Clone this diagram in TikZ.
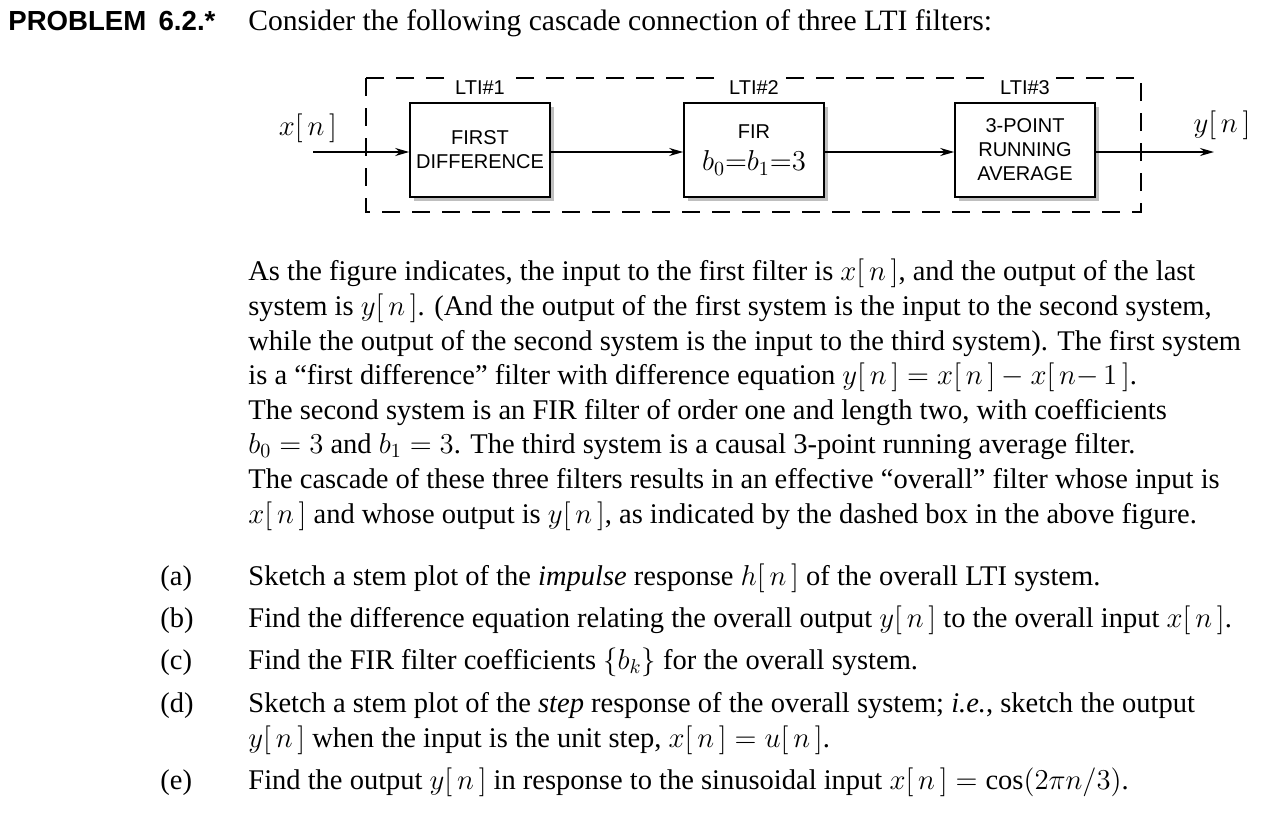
\documentclass[tikz,border=0pt]{standalone}
\usepackage{fontspec}
\setmainfont{Liberation Serif}
\setsansfont{Liberation Sans}
\usetikzlibrary{arrows.meta,shadows}
\newcommand{\sq}[1]{[\,#1\,]}
\begin{document}
\begin{tikzpicture}[x=0.5pt,y=-0.5pt,
  blk/.style={draw,line width=0.8pt,fill=white,minimum width=70pt,minimum height=47pt,font=\sffamily\fontsize{10}{12}\selectfont,align=center,inner sep=1pt,
    drop shadow={shadow xshift=2pt,shadow yshift=-2pt,fill=gray!50,opacity=1}},
  lab/.style={font=\sffamily\fontsize{10}{12}\selectfont,fill=white,inner sep=2pt},
  txt/.style={anchor=base west,inner sep=0pt,font=\fontsize{14.25}{16}\selectfont},
  sig/.style={font=\fontsize{15}{17}\selectfont,inner sep=0pt},
  arr/.style={line width=0.8pt,-{Stealth[length=7pt,width=4pt]}}]
\useasboundingbox (0,0) rectangle (1272,825);
% title
\node[anchor=base west,inner sep=0pt,font=\sffamily\bfseries\fontsize{13.8}{16}\selectfont] (title) at (8,30) {PROBLEM\, 6.2.*};
\node[anchor=base west,inner sep=0pt,font=\fontsize{14.8}{16}\selectfont] (cons) at (248,30) {Consider the following cascade connection of three LTI filters:};
% diagram
\draw[dashed,line width=0.8pt,dash pattern=on 9pt off 6pt] (366,78) rectangle (1141,212);
\node[blk] (b1) at (480,150) {FIRST\\DIFFERENCE};
\node[blk] (b2) at (754,150) {FIR\\[4pt]{\fontsize{14.5}{16}\selectfont$b_0{=}b_1{=}3$}};
\node[blk] (b3) at (1025,150) {3-POINT\\RUNNING\\AVERAGE};
\node[lab] (l1) at (480,88) {LTI\#1};
\node[lab] (l2) at (754,88) {LTI\#2};
\node[lab] (l3) at (1025,88) {LTI\#3};
\coordinate (in) at (313,152);
\coordinate (out) at (1214,152);
\node[sig] (xn) at (308,128) {$x\sq{n}$};
\node[sig] (yn) at (1222,125) {$y\sq{n}$};
\draw[arr] (in) -- (b1.west|-in);
\draw[arr] (b1.east|-in) -- (b2.west|-in);
\draw[arr] (b2.east|-in) -- (b3.west|-in);
\draw[arr] (b3.east|-in) -- (out);
% paragraph
\node[txt] (p1) at (248,280) {As the figure indicates, the input to the first filter is $x\sq{n}$, and the output of the last};
\node[txt] (p2) at (248,315) {system is $y\sq{n}$. (And the output of the first system is the input to the second system,};
\node[txt] (p3) at (248,350) {while the output of the second system is the input to the third system). The first system};
\node[txt] (p4) at (248,384) {is a ``first difference'' filter with difference equation $y\sq{n}=x\sq{n}-x\sq{n{-}\,1}$.};
\node[txt] (p5) at (248,419) {The second system is an FIR filter of order one and length two, with coefficients};
\node[txt] (p6) at (248,453) {$b_0=3$ and $b_1=3$. The third system is a causal 3-point running average filter.};
\node[txt] (p7) at (248,488) {The cascade of these three filters results in an effective ``overall'' filter whose input is};
\node[txt] (p8) at (248,523) {$x\sq{n}$ and whose output is $y\sq{n}$, as indicated by the dashed box in the above figure.};
% items
\node[txt] (ia) at (160,585) {(a)};
\node[txt] (ta) at (248,585) {Sketch a stem plot of the \textit{impulse} response $h\sq{n}$ of the overall LTI system.};
\node[txt] (ib) at (160,627) {(b)};
\node[txt] (tb) at (248,627) {Find the difference equation relating the overall output $y\sq{n}$ to the overall input $x\sq{n}$.};
\node[txt] (ic) at (160,669) {(c)};
\node[txt] (tc) at (248,669) {Find the FIR filter coefficients $\{b_k\}$ for the overall system.};
\node[txt] (id) at (160,712) {(d)};
\node[txt] (td) at (248,712) {Sketch a stem plot of the \textit{step} response of the overall system; \textit{i.e.}, sketch the output};
\node[txt] (td2) at (248,747) {$y\sq{n}$ when the input is the unit step, $x\sq{n}=u\sq{n}$.};
\node[txt] (ie) at (160,789) {(e)};
\node[txt] (te) at (248,789) {Find the output $y\sq{n}$ in response to the sinusoidal input $x\sq{n}=\cos(2\pi n/3)$.};
\end{tikzpicture}
\end{document}
